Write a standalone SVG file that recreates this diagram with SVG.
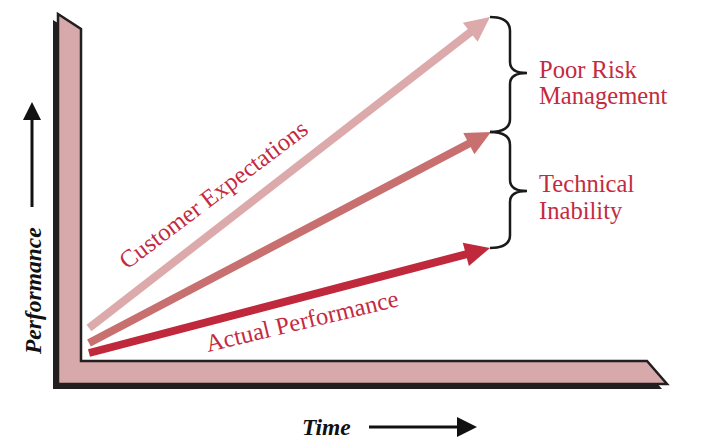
<svg xmlns="http://www.w3.org/2000/svg" width="718" height="446" viewBox="0 0 718 446">
<style>
.lbl{font-family:"Liberation Serif","Times New Roman",serif;font-size:24.6px;fill:#c42a40}
.ax{font-family:"Liberation Serif","Times New Roman",serif;font-size:23.5px;font-weight:bold;font-style:italic;fill:#111}
.brace{fill:none;stroke:#1a1a1a;stroke-width:2.5}
</style>
<rect width="718" height="446" fill="#fff"/>
<g id="frame">
<polygon points="53,20 76,34 76,366 642,366 662,389 53,389" fill="#231f20"/>
<polygon points="58,14 81,29 81,361 647,361 667,384 58,384" fill="#d8a9ab" stroke="#231f20" stroke-width="2.5" stroke-linejoin="miter"/>
</g>
<g id="connectors">
<line x1="89" y1="328" x2="472.6" y2="30.5" stroke="#dcaaab" stroke-width="8"/>
<polygon points="490,17 477.6,41.8 462.9,22.8" fill="#dcaaab"/>
<line x1="89" y1="343" x2="471.5" y2="142.2" stroke="#c8706f" stroke-width="8"/>
<polygon points="491,132 474.4,154.2 463.3,133" fill="#c8706f"/>
<line x1="89" y1="353" x2="468.7" y2="253.6" stroke="#c0283c" stroke-width="8"/>
<polygon points="490,248 468.9,265.9 462.8,242.7" fill="#c0283c"/>
<line x1="32" y1="207" x2="32" y2="118" stroke="#111" stroke-width="3"/>
<polygon points="32,102 23,120 41,120" fill="#111"/>
<line x1="369" y1="427" x2="460" y2="427" stroke="#111" stroke-width="3"/>
<polygon points="477,427 457,417 457,437" fill="#111"/>
</g>
<g id="braces">
<path class="brace" d="M490,17 Q510,17 510,31 L510,62 Q510,73 527,73 Q510,73 510,84 L510,119 Q510,132 490,132"/>
<path class="brace" d="M490,132 Q510,132 510,145 L510,180 Q510,191 527,191 Q510,191 510,202 L510,235 Q510,248 490,248"/>
</g>
<g id="labels">
<text class="lbl" transform="translate(127,270) rotate(-37)">Customer Expectations</text>
<text class="lbl" transform="translate(208,352) rotate(-13.5)">Actual Performance</text>
<text class="lbl" x="539" y="78">Poor Risk</text>
<text class="lbl" x="539" y="104">Management</text>
<text class="lbl" x="539" y="192">Technical</text>
<text class="lbl" x="539" y="219">Inability</text>
<text class="ax" transform="translate(41,354) rotate(-90)">Performance</text>
<text class="ax" x="302" y="435">Time</text>
</g>
</svg>
